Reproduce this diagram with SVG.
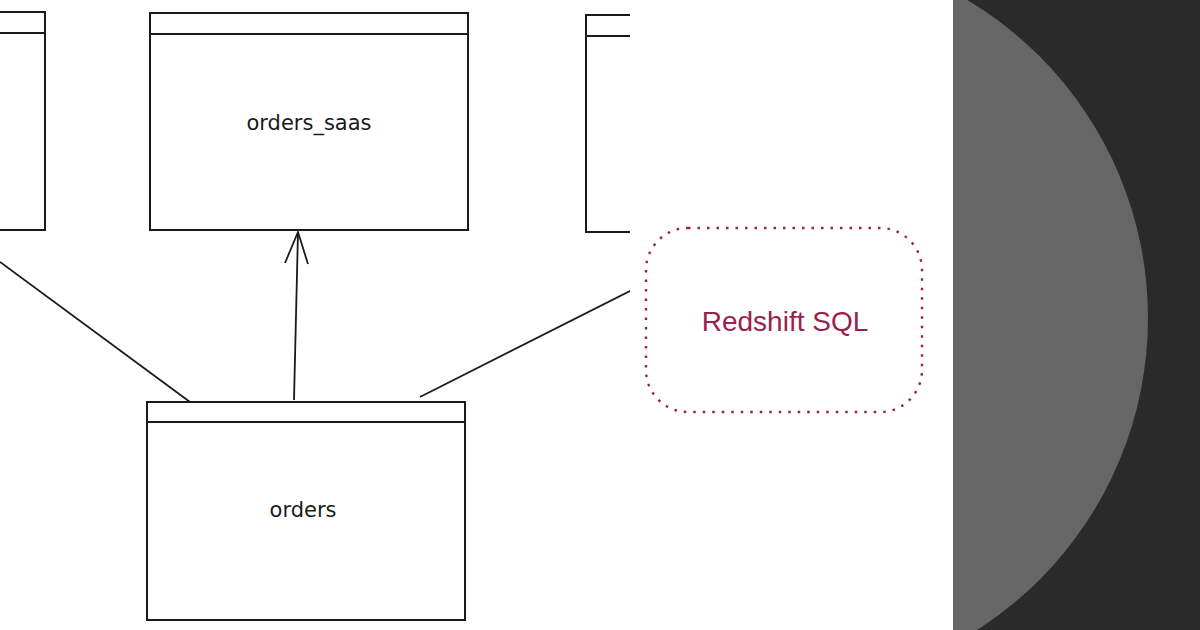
<svg xmlns="http://www.w3.org/2000/svg" width="1200" height="630" viewBox="0 0 1200 630">
<style>
.b{fill:none;stroke:#1a1a1a;stroke-width:2}
.t{font-family:"DejaVu Sans",sans-serif;font-size:21px;fill:#1a1a1a;text-anchor:middle}
.c{stroke:#1a1a1a;stroke-width:1.8;fill:none}
</style>
<defs>
<clipPath id="cl"><rect x="0" y="0" width="630" height="630"/></clipPath>
<clipPath id="cr"><rect x="953" y="0" width="247" height="630"/></clipPath>
</defs>
<rect width="1200" height="630" fill="#fff"/>
<rect x="953" y="0" width="247" height="630" fill="#2a2a2a"/>
<circle cx="778" cy="318" r="370" fill="#666" clip-path="url(#cr)"/>
<g clip-path="url(#cl)">
<g id="left"><rect class="b" x="-100" y="12" width="145" height="218"/><line class="b" x1="-100" y1="33" x2="45" y2="33"/></g>
<g id="orders_saas"><rect class="b" x="150" y="13" width="318" height="217"/><line class="b" x1="150" y1="34" x2="468" y2="34"/><text class="t" x="309" y="130">orders_saas</text></g>
<g id="right"><rect class="b" x="586" y="15" width="200" height="217"/><line class="b" x1="586" y1="36" x2="786" y2="36"/></g>
<g id="orders"><rect class="b" x="147" y="402" width="318" height="218"/><line class="b" x1="147" y1="422" x2="465" y2="422"/><text class="t" x="303" y="517">orders</text></g>
<g id="connectors">
<line class="c" x1="0" y1="262" x2="190" y2="402"/>
<line class="c" x1="294" y1="400" x2="298" y2="232"/>
<polyline class="c" points="285,263 298,232 308,264"/>
<line class="c" x1="420" y1="397" x2="640" y2="286"/>
</g>
</g>
<g id="redshift">
<rect x="646" y="228" width="276" height="184" rx="42" fill="none" stroke="#9b1f4e" stroke-width="2.4" stroke-dasharray="2.5,7"/>
<text x="785" y="331" font-family="Liberation Sans,sans-serif" font-size="28" fill="#9b1f4e" text-anchor="middle">Redshift SQL</text>
</g>
</svg>
